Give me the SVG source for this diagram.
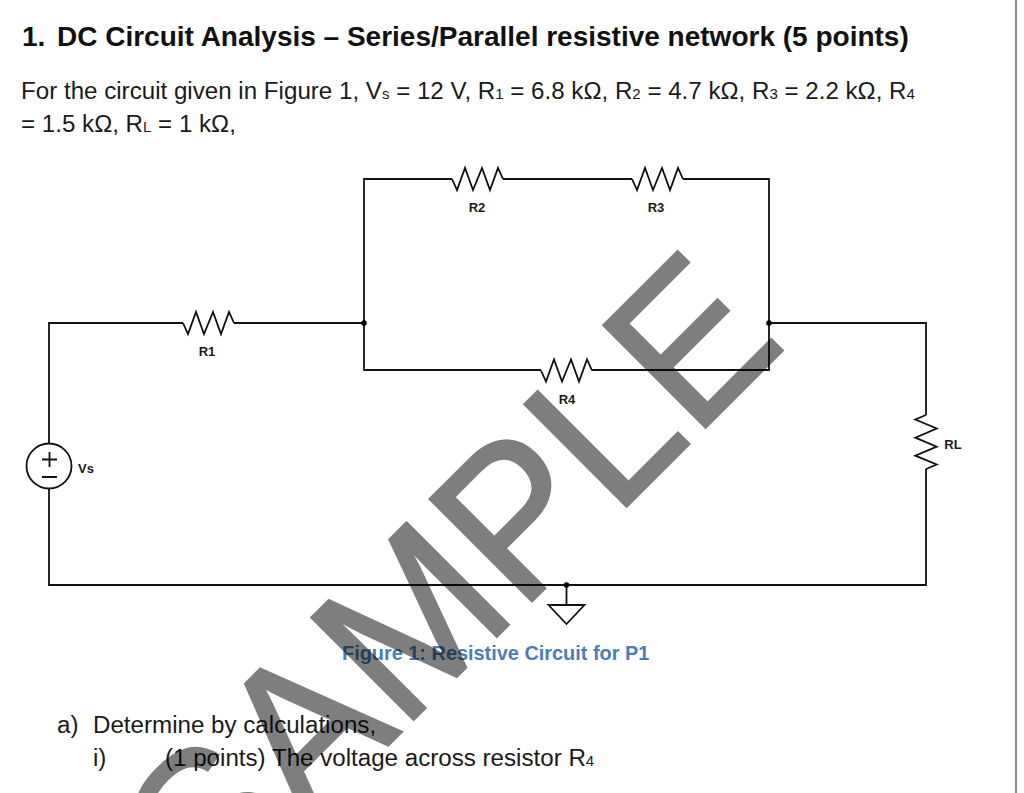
<svg xmlns="http://www.w3.org/2000/svg" width="1024" height="793" viewBox="0 0 1024 793">
<style>
text{font-family:"Liberation Sans",Arial,sans-serif;fill:#1a1a1a}
.t{font-size:28px;font-weight:bold;fill:#111}
.b{font-size:24.150px}
.s{font-size:15px}
.l{font-size:13px;font-weight:bold;text-anchor:middle}
.w{fill:none;stroke:#111;stroke-width:1.8;stroke-linejoin:miter}
.d{fill:#000}
</style>
<defs>
<path id="res" class="w" d="M0 0L5 11L13 -11L21 11L30 -11L38 11L46 -11L51 0"/>
</defs>
<rect width="1024" height="793" fill="#fff"/>
<rect x="1015" y="0" width="2" height="793" fill="#8c8c8c"/>
<g id="heading">
<text class="t" x="22" y="45.500">1.</text>
<text class="t" x="57" y="45.500">DC Circuit Analysis – Series/Parallel resistive network (5 points)</text>
<text class="b" x="21" y="99">For the circuit given in Figure 1, V<tspan class="s">s</tspan> = 12 V, R<tspan class="s">1</tspan> = 6.8 kΩ, R<tspan class="s">2</tspan> = 4.7 kΩ, R<tspan class="s">3</tspan> = 2.2 kΩ, R<tspan class="s">4</tspan></text>
<text class="b" x="21" y="132">= 1.5 kΩ, R<tspan class="s">L</tspan> = 1 kΩ,</text>
</g>
<g id="connectors">
<path class="w" d="M183 323H49V443M49 489V585H926V469M926 415V323H769M234 323H364M364 323V179H452M503 179H632M683 179H769V370H592M541 370H364V323"/>
<path class="w" d="M566.500 585V605"/>
</g>
<g id="R1"><use href="#res" x="183" y="323"/><text class="l" x="207" y="356">R1</text></g>
<g id="R2"><use href="#res" x="452" y="179"/><text class="l" x="477" y="212">R2</text></g>
<g id="R3"><use href="#res" x="632" y="179"/><text class="l" x="656" y="212">R3</text></g>
<g id="R4"><use href="#res" x="541" y="370.500"/><text class="l" x="567" y="404">R4</text></g>
<g id="RL"><path class="w" d="M926 415L915.300 419.500L936.700 428.500L915.300 437.700L936.700 446.700L915.300 455.700L936.700 464.500L926 469"/><text class="l" x="953" y="449">RL</text></g>
<g id="Vs">
<circle class="w" cx="49" cy="466" r="22.500"/>
<path class="w" d="M42 459.500H57M49.500 452V467M42 477H57"/>
<text class="l" x="86" y="473">Vs</text>
</g>
<g id="N1"><circle class="d" cx="364" cy="323" r="2.800"/></g>
<g id="N2"><circle class="d" cx="769" cy="323" r="2.800"/></g>
<g id="GND">
<circle class="d" cx="566.500" cy="585" r="2.800"/>
<path class="w" d="M548.500 605H584.500L566.500 624Z"/>
</g>
<g id="caption"><text x="342" y="659.500" font-size="19.900" font-weight="bold" style="fill:#4a7ebb">Figure 1: Resistive Circuit for P1</text></g>
<g id="question">
<text class="b" x="57" y="733">a)</text>
<text class="b" x="93" y="733">Determine by calculations,</text>
<text class="b" x="93" y="766">i)</text>
<text class="b" x="165" y="766">(1 points) The voltage across resistor R<tspan class="s">4</tspan></text>
</g>
<g id="watermark" opacity=".5"><text transform="translate(705.700 427.700) rotate(-45) scale(.957 1)" x="-729" y="0" font-size="210" stroke="#000" stroke-width="2.500" style="fill:#000">SAMPLE</text></g>
</svg>
